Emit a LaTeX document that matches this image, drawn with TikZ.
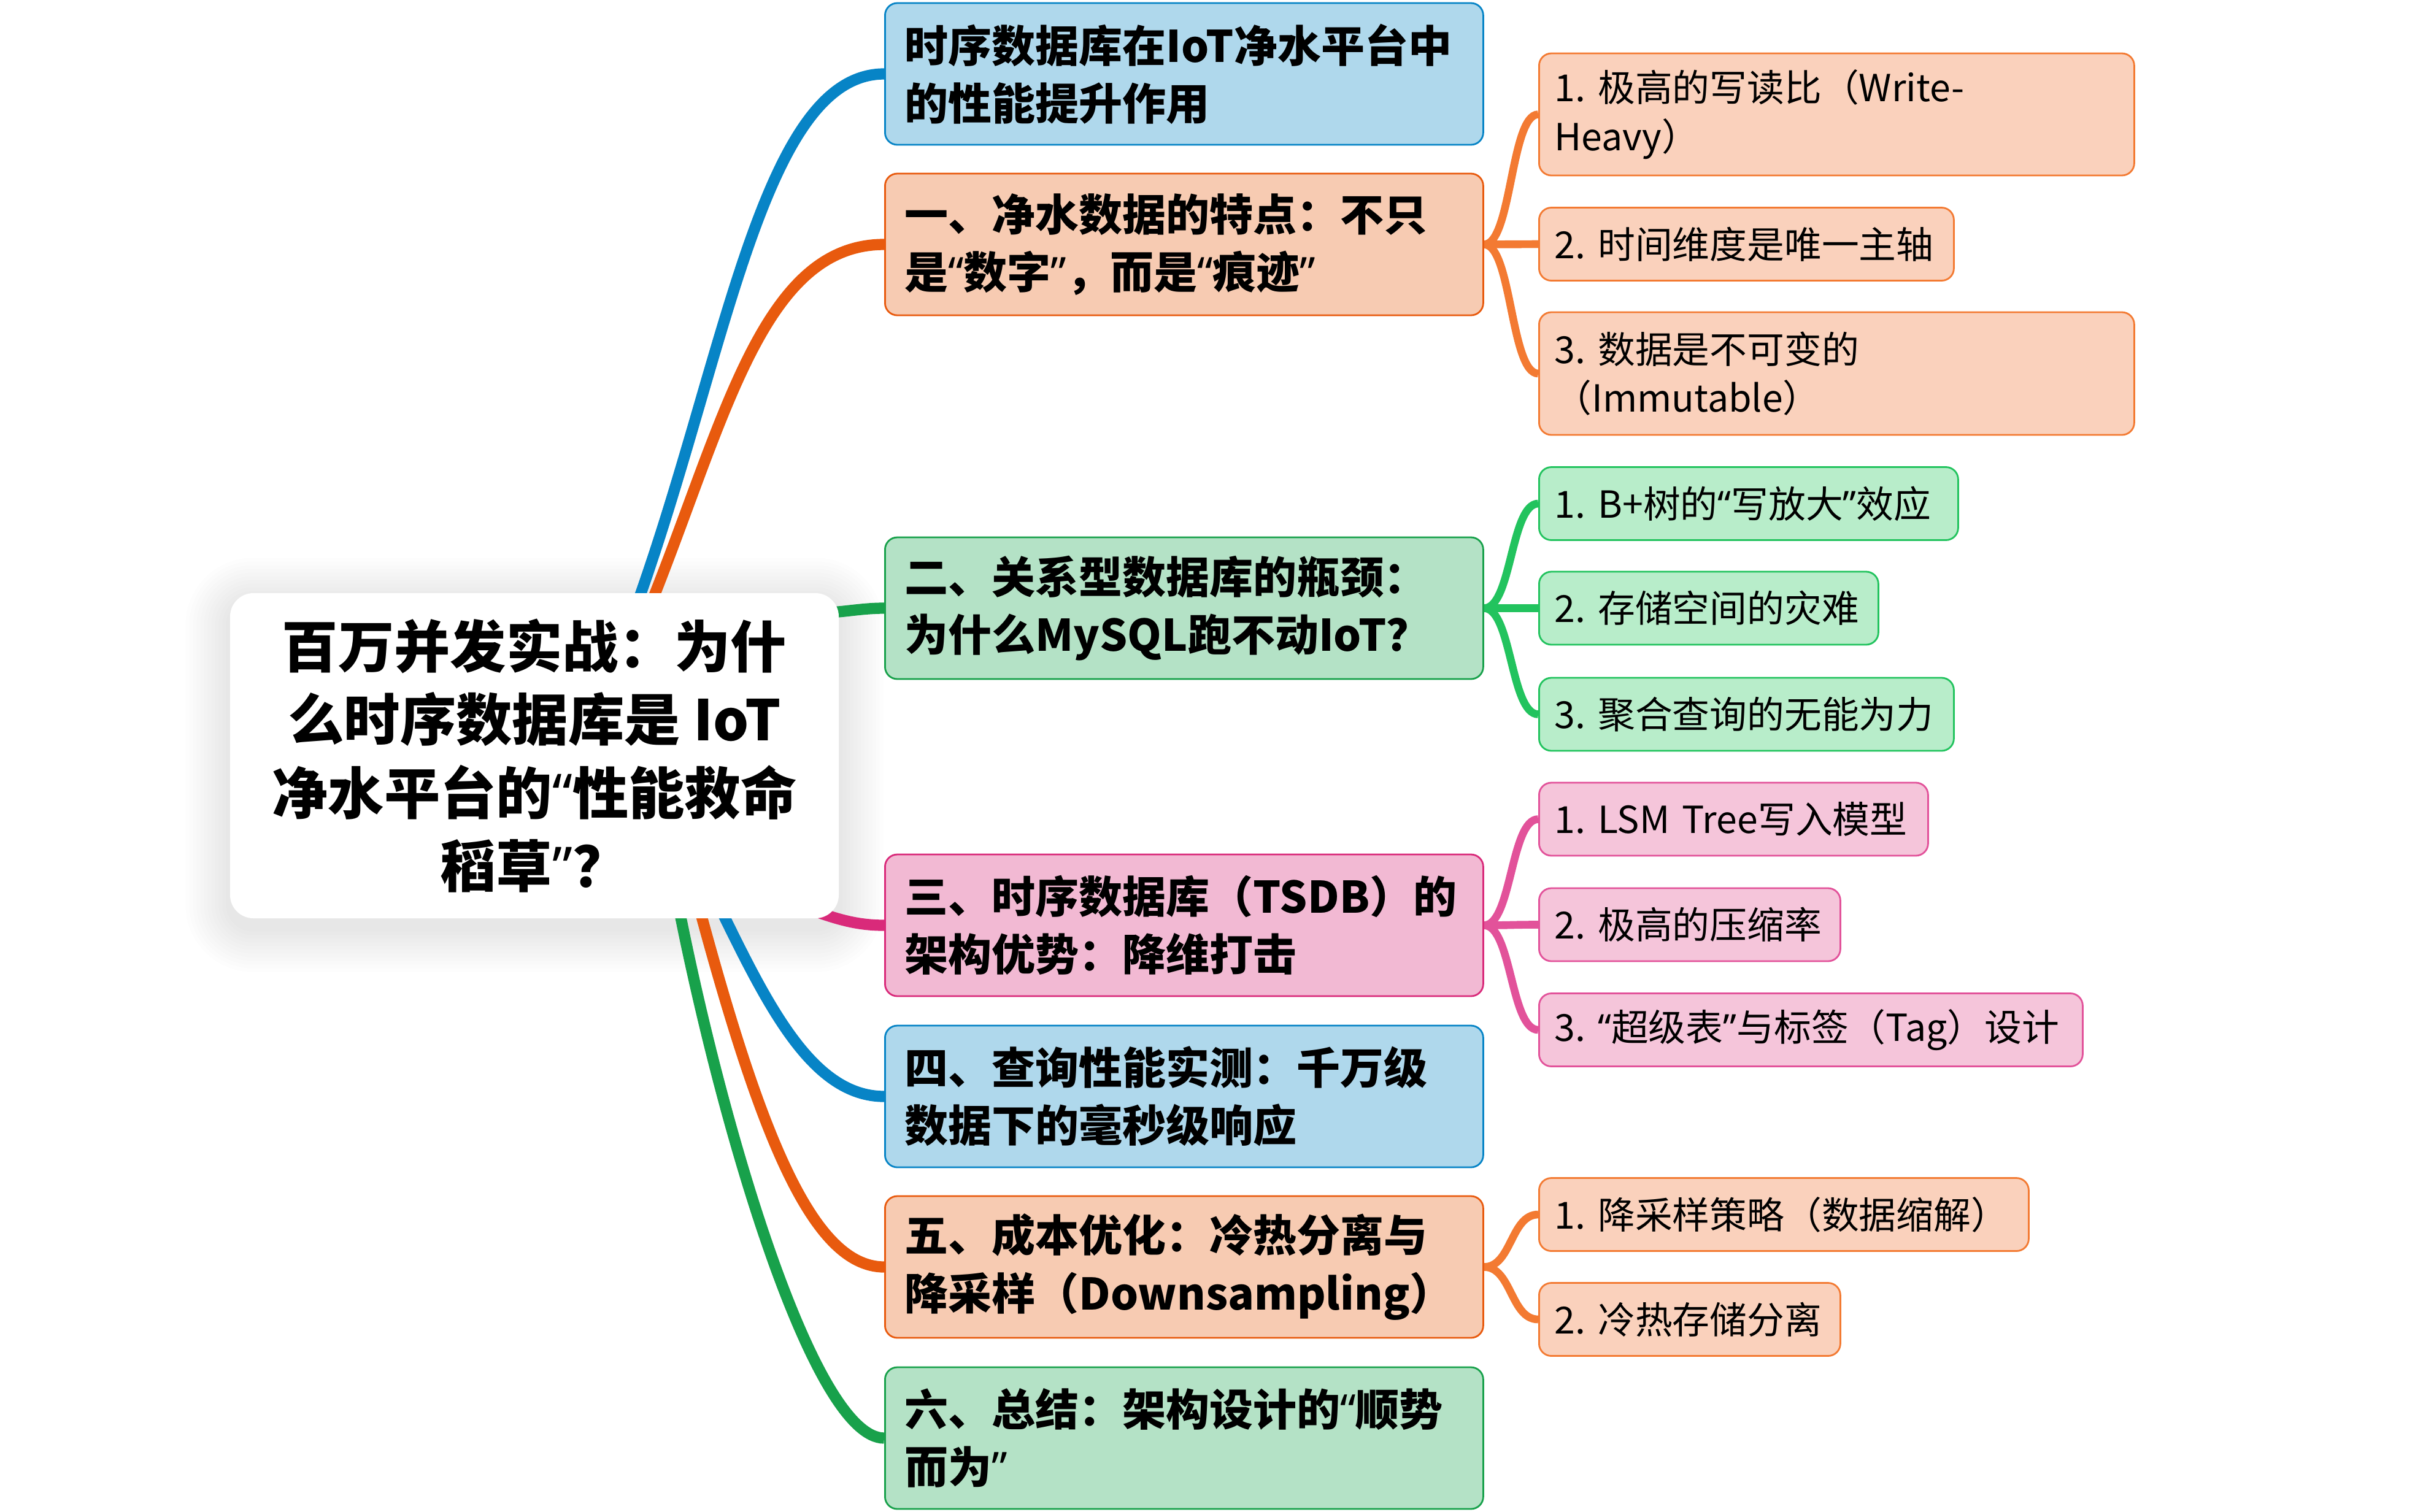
\documentclass[tikz,border=0pt]{standalone}
\usepackage{fontspec}
\setmainfont{Noto Sans CJK SC}
\newfontfamily\latinq{Noto Sans}
\newcommand{\qo}{{\latinq “}}
\newcommand{\qc}{{\latinq ”}}
\usetikzlibrary{backgrounds}
\definecolor{lnBlue}{HTML}{0784C6}
\definecolor{lnOrange}{HTML}{E85A0E}
\definecolor{lnGreen}{HTML}{18A14B}
\definecolor{lnPink}{HTML}{D92A7A}
\definecolor{fBlue}{HTML}{AFD8EC}
\definecolor{fOrange}{HTML}{F7CBB2}
\definecolor{fGreen}{HTML}{B4E2C6}
\definecolor{fPink}{HTML}{F2B9D3}
\definecolor{twOrange}{HTML}{F37A32}
\definecolor{twGreen}{HTML}{22C35E}
\definecolor{twPink}{HTML}{E2529A}
\definecolor{lfOrange}{HTML}{FAD1BC}
\definecolor{lfGreen}{HTML}{B8EDCA}
\definecolor{lfPink}{HTML}{F5C5DA}

\begin{document}
\begin{tikzpicture}[
  hub/.style={fill=white, rounded corners=0.38cm, align=center, inner sep=0pt,
    minimum width=9.92cm, minimum height=5.30cm,
    font=\fontsize{26}{34}\selectfont\bfseries},
  topic/.style={draw, line width=0.8pt, rounded corners=0.2cm, anchor=west,
    align=left, text width=9.11cm, inner xsep=0.32cm, inner ysep=0pt,
    minimum height=2.31cm, font=\fontsize{20.2}{26.8}\selectfont\bfseries},
  leaf/.style={draw, line width=0.8pt, rounded corners=0.2cm, anchor=west,
    align=left, inner xsep=0.25cm, inner ysep=0pt, minimum height=1.19cm,
    font=\fontsize{17.3}{22.7}\selectfont},
  trunk/.style={line width=5.2pt},
  twig/.style={line width=3.6pt}
]
\useasboundingbox (0,0) rectangle (39.36,-24.64);

\node[hub] (root) at (8.71,-12.32) {百万并发实战：为什\\么时序数据库是 IoT\\净水平台的\qo 性能救命\\稻草\qc？};

\node[topic, fill=fBlue, draw=lnBlue] (t0) at (14.41,-1.205) {时序数据库在IoT净水平台中\\的性能提升作用};
\node[topic, fill=fOrange, draw=lnOrange] (t1) at (14.41,-3.985) {一、净水数据的特点：不只\\是\qo 数字\qc，而是\qo 痕迹\qc};
\node[topic, fill=fGreen, draw=lnGreen] (t2) at (14.41,-9.915) {二、关系型数据库的瓶颈：\\为什么MySQL跑不动IoT？};
\node[topic, fill=fPink, draw=lnPink] (t3) at (14.41,-15.085) {三、时序数据库（TSDB）的\\架构优势：降维打击};
\node[topic, fill=fBlue, draw=lnBlue] (t4) at (14.41,-17.875) {四、查询性能实测：千万级\\数据下的毫秒级响应};
\node[topic, fill=fOrange, draw=lnOrange] (t5) at (14.41,-20.655) {五、成本优化：冷热分离与\\降采样（Downsampling）};
\node[topic, fill=fGreen, draw=lnGreen] (t6) at (14.41,-23.445) {六、总结：架构设计的\qo 顺势\\而为\qc};

\node[leaf, fill=lfOrange, draw=twOrange, text width=9.20cm, minimum height=1.99cm] (l11) at (25.07,-1.865) {1.~极高的写读比（Write-\\Heavy）};
\node[leaf, fill=lfOrange, draw=twOrange, text width=6.26cm] (l12) at (25.07,-3.98) {2.~时间维度是唯一主轴};
\node[leaf, fill=lfOrange, draw=twOrange, text width=9.20cm, minimum height=2.00cm] (l13) at (25.07,-6.09) {3.~数据是不可变的\\（Immutable）};
\node[leaf, fill=lfGreen, draw=twGreen, text width=6.33cm] (l21) at (25.07,-8.21) {1.~B+树的\qo 写放大\qc 效应};
\node[leaf, fill=lfGreen, draw=twGreen, text width=5.03cm] (l22) at (25.07,-9.915) {2.~存储空间的灾难};
\node[leaf, fill=lfGreen, draw=twGreen, text width=6.26cm] (l23) at (25.07,-11.645) {3.~聚合查询的无能为力};
\node[leaf, fill=lfPink, draw=twPink, text width=5.84cm] (l31) at (25.07,-13.355) {1.~LSM~Tree写入模型};
\node[leaf, fill=lfPink, draw=twPink, text width=4.41cm] (l32) at (25.07,-15.075) {2.~极高的压缩率};
\node[leaf, fill=lfPink, draw=twPink, text width=8.36cm] (l33) at (25.07,-16.79) {3.~\qo 超级表\qc 与标签（Tag）设计};
\node[leaf, fill=lfOrange, draw=twOrange, text width=7.48cm] (l51) at (25.07,-19.80) {1.~降采样策略（数据缩解）};
\node[leaf, fill=lfOrange, draw=twOrange, text width=4.41cm] (l52) at (25.07,-21.51) {2.~冷热存储分离};

\begin{scope}[on background layer]
\foreach \i [evaluate=\i as \sh using 0.06*\i, evaluate=\i as \rr using 0.38+0.06*\i] in {1,...,12}
  \fill[black, opacity=0.007, rounded corners=\rr cm]
    ([shift={(-\sh,\sh-0.15)}]root.north west) rectangle ([shift={(\sh,-\sh-0.15)}]root.south east);

\draw[trunk, lnBlue] ([shift={(1.62,-0.33)}]root.north) .. controls +(70:4.36) and +(-2,0) .. (t0.west);
\draw[trunk, lnOrange] ([shift={(1.84,-0.33)}]root.north) .. controls +(68:3.36) and +(-2,0) .. (t1.west);
\draw[trunk, lnGreen] ([shift={(-0.37,-0.33)}]root.north east) .. controls +(0.4,0) and +(-0.4,0) .. (t2.west);
\draw[trunk, lnPink] ([shift={(-0.67,0.22)}]root.south east) .. controls +(-20:0.6) and +(-0.5,0) .. (t3.west);
\draw[trunk, lnBlue] ([shift={(2.94,0.35)}]root.south) .. controls +(-64:1.89) and +(-1.2,0) .. (t4.west);
\draw[trunk, lnOrange] ([shift={(2.64,0.35)}]root.south) .. controls +(-75:3.86) and +(-1.2,0) .. (t5.west);
\draw[trunk, lnGreen] ([shift={(2.32,0.35)}]root.south) .. controls +(-79:3.96) and +(-1.13,0) .. (t6.west);

\foreach \p/\c/\k in {t1/l11/twOrange, t1/l12/twOrange, t1/l13/twOrange,
    t2/l21/twGreen, t2/l22/twGreen, t2/l23/twGreen,
    t3/l31/twPink, t3/l32/twPink, t3/l33/twPink,
    t5/l51/twOrange, t5/l52/twOrange}
  \draw[twig, \k] (\p.east) .. controls +(0.45,0) and +(-0.45,0) .. (\c.west);
\end{scope}
\end{tikzpicture}
\end{document}
